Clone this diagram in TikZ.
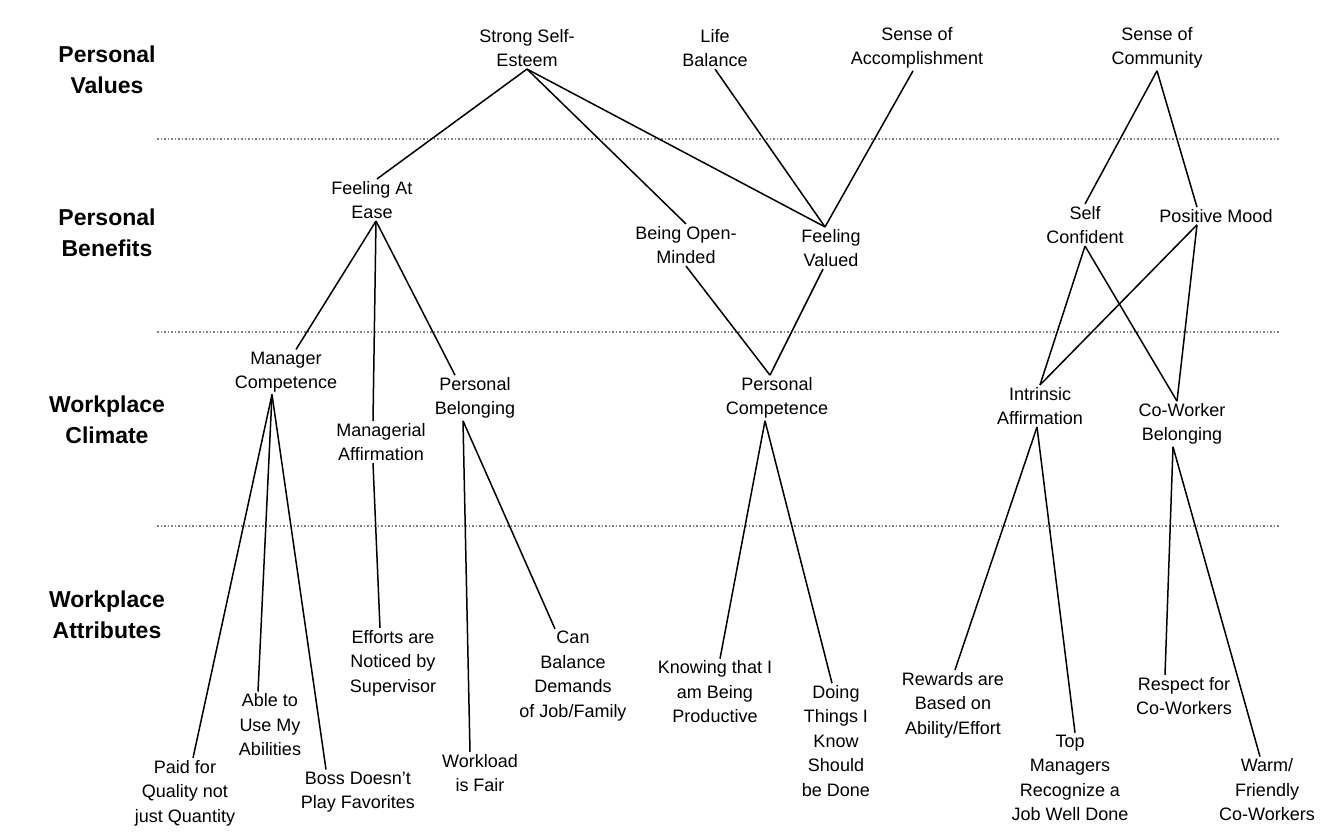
\documentclass[tikz,border=0pt]{standalone}
\usepackage{fontspec}
\setmainfont{Liberation Sans}
\begin{document}
\begin{tikzpicture}[x=1pt,y=-1pt,
  t/.style={align=center,inner sep=2pt,font=\fontsize{18}{24.5}\selectfont},
  h/.style={align=center,inner sep=0pt,font=\fontsize{23}{31}\selectfont\bfseries},
  c/.style={line width=1.5pt},
  sep/.style={line width=1.5pt,dotted,gray}]
\useasboundingbox (0,0) rectangle (1325,840);
\node[h] (hv) at (107,70) {Personal\\Values};
\node[h] (hb) at (107,233) {Personal\\Benefits};
\node[h] (hc) at (107,420) {Workplace\\Climate};
\node[h] (ha) at (107,615) {Workplace\\Attributes};
\coordinate (s1a) at (157,139); \coordinate (s1b) at (1280,139);
\coordinate (s2a) at (157,332); \coordinate (s2b) at (1280,332);
\coordinate (s3a) at (157,526); \coordinate (s3b) at (1280,526);
\draw[sep] (s1a)--(s1b); \draw[sep] (s2a)--(s2b); \draw[sep] (s3a)--(s3b);
% values
\node[t] (sse) at (527,48) {Strong Self-\\Esteem};
\node[t] (lb) at (715,48) {Life\\Balance};
\node[t] (sa) at (917,48) {Sense of\\Accomplishment};
\node[t] (sc) at (1157,48) {Sense of\\Community};
% benefits
\node[t] (fae) at (372,200) {Feeling At\\Ease};
\node[t] (bom) at (686,245) {Being Open-\\Minded};
\node[t] (fv) at (831,248) {Feeling\\Valued};
\node[t] (sf) at (1085,225) {Self\\Confident};
\node[t] (pm) at (1216,216) {Positive Mood};
% climate
\node[t] (mc) at (286,372) {Manager\\Competence};
\node[t] (ma) at (381,442) {Managerial\\Affirmation};
\node[t] (pb) at (475,398) {Personal\\Belonging};
\node[t] (pc) at (777,398) {Personal\\Competence};
\node[t] (ia) at (1040,406) {Intrinsic\\Affirmation};
\node[t] (cb) at (1182,424) {Co-Worker\\Belonging};
% attributes
\node[t] (pq) at (185,793) {Paid for\\Quality not\\just Quantity};
\node[t] (au) at (270,725) {Able to\\Use My\\Abilities};
\node[t] (bd) at (358,792) {Boss Doesn't\\Play Favorites};
\node[t] (en) at (393,663) {Efforts are\\Noticed by\\Supervisor};
\node[t] (wf) at (480,773) {Workload\\is Fair};
\node[t] (cbd) at (573,676) {Can\\Balance\\Demands\\of Job/Family};
\node[t] (kp) at (715,692) {Knowing that I\\am Being\\Productive};
\node[t] (dt) at (836,741) {Doing\\Things I\\Know\\Should\\be Done};
\node[t] (rb) at (953,705) {Rewards are\\Based on\\Ability/Effort};
\node[t] (tm) at (1070,778) {Top\\Managers\\Recognize a\\Job Well Done};
\node[t] (rc) at (1184,696) {Respect for\\Co-Workers};
\node[t] (wc) at (1267,790) {Warm/\\Friendly\\Co-Workers};
% connectors
\draw[c] (sse.south) -- ([xshift=5]fae.north);
\draw[c] (sse.south) -- (bom.north);
\draw[c] (sse.south) -- ([xshift=-6]fv.north);
\draw[c] (lb.south) -- ([xshift=-6]fv.north);
\draw[c] ([xshift=-4]sa.south) -- ([xshift=-6]fv.north);
\draw[c] (sc.south) -- (sf.north);
\draw[c] (sc.south) -- ([xshift=-19]pm.north);
\draw[c] ([xshift=4]fae.south) -- ([xshift=10]mc.north);
\draw[c] ([xshift=4]fae.south) -- ([xshift=-8]ma.north);
\draw[c] ([xshift=4]fae.south) -- ([xshift=-20]pb.north);
\draw[c] (bom.south) -- ([xshift=-7]pc.north);
\draw[c] ([xshift=-8]fv.south) -- ([xshift=-7]pc.north);
\draw[c] (sf.south) -- (ia.north);
\draw[c] (sf.south) -- ([xshift=-5]cb.north);
\draw[c] ([xshift=-19]pm.south) -- (ia.north);
\draw[c] ([xshift=-19]pm.south) -- ([xshift=-5]cb.north);
\draw[c] ([xshift=-14]mc.south) -- ([xshift=8]pq.north);
\draw[c] ([xshift=-14]mc.south) -- ([xshift=-12]au.north);
\draw[c] ([xshift=-14]mc.south) -- ([xshift=-32]bd.north);
\draw[c] ([xshift=-8]ma.south) -- ([xshift=-13]en.north);
\draw[c] ([xshift=-12]pb.south) -- ([xshift=-10]wf.north);
\draw[c] ([xshift=-12]pb.south) -- ([xshift=-18]cbd.north);
\draw[c] ([xshift=-12]pc.south) -- ([xshift=5]kp.north);
\draw[c] ([xshift=-12]pc.south) -- ([xshift=-4]dt.north);
\draw[c] ([xshift=-3]ia.south) -- ([xshift=2]rb.north);
\draw[c] ([xshift=-3]ia.south) -- ([xshift=5]tm.north);
\draw[c] ([xshift=-9]cb.south) -- ([xshift=-19]rc.north);
\draw[c] ([xshift=-9]cb.south) -- ([xshift=-7]wc.north);
\end{tikzpicture}
\end{document}
